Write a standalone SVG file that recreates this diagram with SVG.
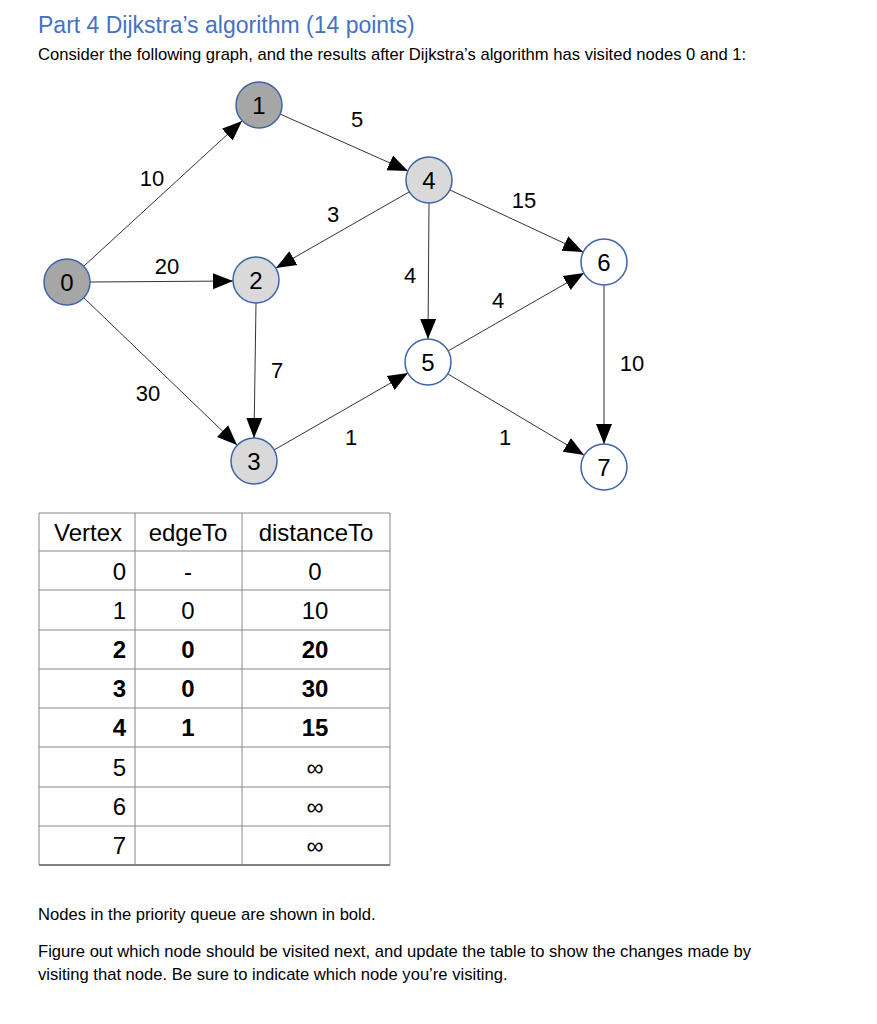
<svg xmlns="http://www.w3.org/2000/svg" width="877" height="1024" viewBox="0 0 877 1024">
<style>
text{font-family:"Liberation Sans",Arial,sans-serif;fill:#000}
.n circle{stroke:#3f63a8;stroke-width:1.5}
.n text{font-size:24px;text-anchor:middle}
.e line{stroke:#333;stroke-width:1;marker-end:url(#a)}
.w{font-size:22px;text-anchor:middle}
.t{font-size:24px;text-anchor:middle}
.b{font-weight:bold}
.g line{stroke:#888;stroke-width:1}
.p{font-size:16.6px}
</style>
<defs><marker id="a" markerWidth="20" markerHeight="20" refX="20" refY="10" orient="auto" markerUnits="userSpaceOnUse"><path d="M0,2 L20,10 L0,18 Z" fill="#000"/></marker></defs>
<rect width="877" height="1024" fill="#fff"/>
<text x="38" y="33" style="font-size:23px;fill:#4472c4">Part 4 Dijkstra’s algorithm (14 points)</text>
<text class="p" x="38" y="60">Consider the following graph, and the results after Dijkstra’s algorithm has visited nodes 0 and 1:</text>
<g id="edges" class="e">
<line x1="84" y1="266" x2="242" y2="121"/>
<line x1="90" y1="282" x2="233" y2="281"/>
<line x1="84" y1="298" x2="237" y2="445"/>
<line x1="280" y1="114" x2="408" y2="171"/>
<line x1="409" y1="192" x2="276" y2="268"/>
<line x1="429" y1="203" x2="428" y2="339"/>
<line x1="450" y1="190" x2="583" y2="252"/>
<line x1="256" y1="303" x2="254" y2="438"/>
<line x1="274" y1="450" x2="408" y2="373"/>
<line x1="448" y1="351" x2="584" y2="273"/>
<line x1="448" y1="374" x2="584" y2="455"/>
<line x1="604" y1="285" x2="604" y2="444"/>
</g>
<g id="weights">
<text class="w" x="152" y="186">10</text>
<text class="w" x="167" y="274">20</text>
<text class="w" x="148" y="401">30</text>
<text class="w" x="357" y="127">5</text>
<text class="w" x="333" y="222">3</text>
<text class="w" x="410" y="283">4</text>
<text class="w" x="524" y="208">15</text>
<text class="w" x="498" y="308">4</text>
<text class="w" x="277" y="378">7</text>
<text class="w" x="351" y="445">1</text>
<text class="w" x="505" y="445">1</text>
<text class="w" x="632" y="371">10</text>
</g>
<g id="n0" class="n"><circle cx="67" cy="282" r="23" fill="#a6a6a6"/><text x="67" y="291">0</text></g>
<g id="n1" class="n"><circle cx="259" cy="105" r="23" fill="#a6a6a6"/><text x="259" y="114">1</text></g>
<g id="n2" class="n"><circle cx="256" cy="280" r="23" fill="#d9d9d9"/><text x="256" y="289">2</text></g>
<g id="n3" class="n"><circle cx="254" cy="461" r="23" fill="#d9d9d9"/><text x="254" y="470">3</text></g>
<g id="n4" class="n"><circle cx="429" cy="180" r="23" fill="#d9d9d9"/><text x="429" y="189">4</text></g>
<g id="n5" class="n"><circle cx="428" cy="362" r="23" fill="#fff"/><text x="428" y="371">5</text></g>
<g id="n6" class="n"><circle cx="604" cy="262" r="23" fill="#fff"/><text x="604" y="271">6</text></g>
<g id="n7" class="n"><circle cx="604" cy="467" r="23" fill="#fff"/><text x="604" y="476">7</text></g>
<g id="table">
<g class="g">
<line x1="39" y1="513" x2="390" y2="513"/>
<line x1="39" y1="551" x2="390" y2="551"/>
<line x1="39" y1="590" x2="390" y2="590"/>
<line x1="39" y1="630" x2="390" y2="630"/>
<line x1="39" y1="669" x2="390" y2="669"/>
<line x1="39" y1="708" x2="390" y2="708"/>
<line x1="39" y1="747" x2="390" y2="747"/>
<line x1="39" y1="787" x2="390" y2="787"/>
<line x1="39" y1="826" x2="390" y2="826"/>
<line x1="39" y1="865" x2="390" y2="865" style="stroke:#000"/>
<line x1="39" y1="513" x2="39" y2="865"/>
<line x1="135" y1="513" x2="135" y2="865"/>
<line x1="242" y1="513" x2="242" y2="865"/>
<line x1="390" y1="513" x2="390" y2="865"/>
</g>
<text class="t" x="88" y="541">Vertex</text><text class="t" x="188" y="541">edgeTo</text><text class="t" x="316" y="541">distanceTo</text>
<text class="t" x="126" y="580" style="text-anchor:end">0</text><text class="t" x="188" y="580">-</text><text class="t" x="315" y="580">0</text>
<text class="t" x="126" y="619" style="text-anchor:end">1</text><text class="t" x="188" y="619">0</text><text class="t" x="315" y="619">10</text>
<text class="t b" x="126" y="658" style="text-anchor:end">2</text><text class="t b" x="188" y="658">0</text><text class="t b" x="315" y="658">20</text>
<text class="t b" x="126" y="697" style="text-anchor:end">3</text><text class="t b" x="188" y="697">0</text><text class="t b" x="315" y="697">30</text>
<text class="t b" x="126" y="736" style="text-anchor:end">4</text><text class="t b" x="188" y="736">1</text><text class="t b" x="315" y="736">15</text>
<text class="t" x="126" y="776" style="text-anchor:end">5</text><text class="t" x="315" y="776">∞</text>
<text class="t" x="126" y="815" style="text-anchor:end">6</text><text class="t" x="315" y="815">∞</text>
<text class="t" x="126" y="854" style="text-anchor:end">7</text><text class="t" x="315" y="854">∞</text>
</g>
<text class="p" x="38" y="920">Nodes in the priority queue are shown in bold.</text>
<text class="p" x="38" y="957">Figure out which node should be visited next, and update the table to show the changes made by</text>
<text class="p" x="38" y="980">visiting that node. Be sure to indicate which node you’re visiting.</text>
</svg>
